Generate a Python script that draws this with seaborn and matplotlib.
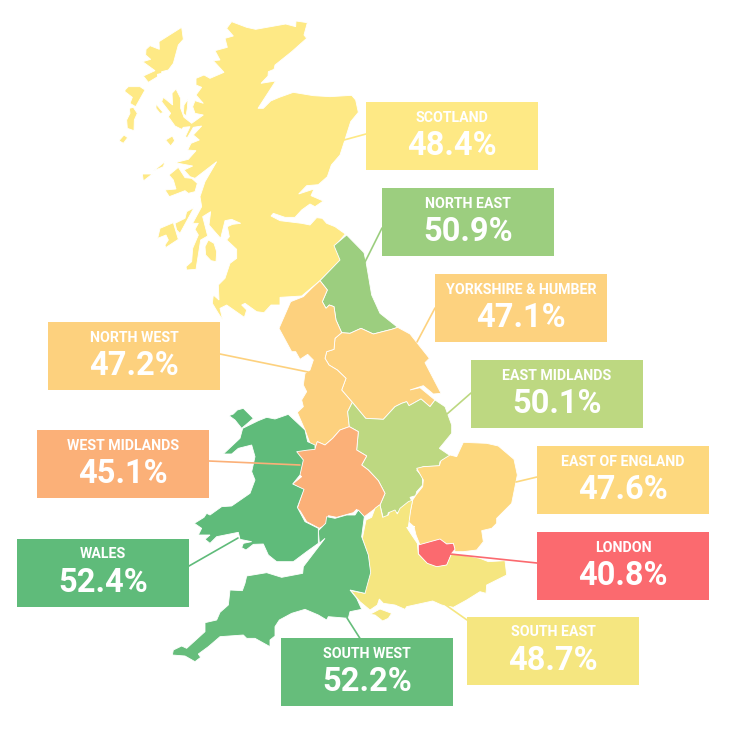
import matplotlib
matplotlib.use('Agg')
import matplotlib.pyplot as plt
import seaborn as sns

# region results
regions = ['SCOTLAND', 'NORTH EAST', 'YORKSHIRE & HUMBER', 'NORTH WEST', 'EAST MIDLANDS',
           'WEST MIDLANDS', 'EAST OF ENGLAND', 'LONDON', 'SOUTH EAST', 'SOUTH WEST', 'WALES']
values = [48.4, 50.9, 47.1, 47.2, 50.1, 45.1, 47.6, 40.8, 48.7, 52.2, 52.4]
colours = ['#FEE985', '#9CCE7F', '#FDD27F', '#FDD17E', '#BDD881',
           '#FBB078', '#FDD87E', '#FB6A6F', '#F5E680', '#66BD7B', '#5FBB7A']

# top-left corner of each label box, box size is the same for all
box_x = [366, 382, 435, 48, 471, 37, 537, 537, 467, 281, 17]
box_y = [102, 188, 274, 322, 360, 430, 446, 532, 617, 638, 539]
BOX_W, BOX_H = 172, 68

# leader lines: x0, y0, x1, y1
leaders = [(344, 140, 366, 134), (365, 262, 382, 228), (417, 342, 435, 308), (220, 354, 308, 372),
           (447, 414, 471, 393), (209, 461, 300, 465), (516, 482, 537, 477), (450, 554, 537, 563),
           (440, 601, 467, 620), (347, 618, 361, 640), (189, 566, 238, 538)]

# outlines traced at 3x from the source picture, with the corner each trace starts from
SCOT_ORIGIN = (110, 10)
scot_main = [(365,35),(410,52),(437,58),(527,42),(557,50),(558,33),(592,38),(582,75),(590,85),(545,125),(495,165),(492,178),(475,185),(474,198),(453,220),(497,213),(444,295),(460,295),(482,273),(508,262),(550,247),(610,257),(660,260),(725,256),(737,270),(745,307),(722,335),(703,395),(690,435),(664,465),(652,500),(625,524),(590,527),(566,552),(612,537),(603,557),(640,573),(615,590),(600,582),(575,600),(555,622),(525,622),(490,610),(483,618),(510,632),(575,640),(600,645),(620,623),(637,625),(650,640),(675,650),(706,672),(675,708),(691,750),(630,812),(575,858),(510,862),(510,885),(483,885),(462,908),(440,905),(405,880),(395,885),(410,900),(403,922),(350,885),(330,895),(338,930),(322,905),(307,880),(310,855),(327,870),(325,825),(345,805),(360,760),(380,745),(380,718),(350,690),(358,680),(352,650),(368,643),(392,640),(365,628),(345,632),(332,685),(297,645),(302,605),(278,620),(293,678),(272,690),(258,778),(230,780),(228,770),(245,755),(248,715),(265,675),(255,658),(265,640),(248,640),(275,590),(270,560),(285,515),(320,455),(255,505),(240,500),(222,480),(248,468),(195,458),(235,448),(258,422),(233,420),(243,400),(268,390),(250,375),(275,348),(250,352),(232,383),(226,380),(240,350),(220,352),(215,358),(195,348),(175,320),(182,310),(155,275),(160,262),(188,285),(186,250),(198,237),(212,265),(212,295),(222,322),(245,340),(280,315),(255,310),(248,290),(255,272),(280,280),(258,255),(275,232),(258,225),(258,205),(282,195),(300,205),(342,187),(310,152),(330,150),(315,122),(352,112),(345,85),(370,78),(350,55)]
scot_islands = [
    [(215,52),(220,88),(205,105),(190,160),(175,180),(155,185),(155,190),(142,193),(143,200),(115,217),(100,198),(135,182),(98,155),(122,148),(107,135),(108,118),(120,107),(148,118),(147,95)],
    [(45,240),(55,230),(90,230),(105,240),(77,290),(60,280),(67,262),(45,245)],
    [(58,295),(70,292),(82,310),(73,330),(72,362),(52,355),(50,330),(60,310)],
    [(27,392),(42,375),(53,383),(40,400)],
    [(167,390),(187,378),(194,392),(182,408)],
    [(130,483),(165,455),(160,470)],
    [(97,492),(127,492),(100,513)],
    [(177,495),(205,472),(225,503),(245,505),(262,520),(255,545),(235,550),(225,542),(178,560),(165,540),(198,537),(190,510)],
    [(143,685),(150,655),(190,638),(205,688),(167,713),(165,705),(175,690),(168,675)],
    [(195,640),(225,625),(230,605),(252,593),(210,670),(200,660)],
    [(295,690),(312,700),(320,725),(318,755),(303,752),(287,735),(285,710)],
    [(220,310),(222,285),(234,268),(232,295),(228,318)],
    [(138,282),(160,308),(150,310),(138,295)],
]

MID_ORIGIN = (260, 230)
north_east = [(260,15),(312,68),(318,95),(335,195),(360,250),(413,292),(395,298),(340,312),(303,295),(270,310),(245,308),(228,270),(222,230),(208,225),(198,235),(187,215),(202,180),(180,152),(240,90),(222,47)]
north_west = [(180,152),(202,180),(187,215),(198,235),(208,225),(222,230),(228,270),(245,308),(225,325),(222,358),(200,365),(195,385),(207,405),(232,420),(258,445),(245,480),(277,517),(263,545),(268,590),(240,600),(218,625),(195,645),(172,635),(165,655),(150,640),(135,600),(112,547),(130,530),(125,510),(140,485),(130,465),(135,430),(150,420),(160,390),(143,373),(120,388),(107,365),(95,365),(57,295),(92,215),(130,200),(155,175)]
yorkshire = [(413,292),(450,312),(508,385),(495,398),(543,490),(520,492),(490,467),(450,480),(480,473),(525,510),(510,530),(483,507),(447,527),(440,515),(425,520),(405,530),(370,568),(317,565),(277,517),(245,480),(258,445),(232,420),(207,405),(195,385),(200,365),(222,358),(225,325),(245,308),(270,310),(303,295),(340,312),(395,298)]
east_midlands = [(277,517),(317,565),(370,568),(405,530),(425,520),(440,515),(447,527),(483,507),(510,530),(525,510),(555,530),(575,585),(575,610),(538,655),(572,678),(540,695),(538,708),(490,710),(470,720),(487,740),(488,765),(470,785),(467,797),(450,802),(455,812),(415,848),(385,848),(382,860),(370,865),(360,825),(375,790),(355,752),(325,720),(305,705),(320,678),(290,660),(295,605),(268,590),(263,545)]
west_midlands = [(268,590),(295,605),(290,660),(320,678),(305,705),(325,720),(355,752),(375,790),(360,825),(313,860),(290,838),(280,848),(230,862),(205,857),(205,880),(178,895),(140,875),(120,842),(112,835),(130,780),(98,762),(125,740),(108,725),(125,705),(107,665),(120,650),(152,645),(165,655),(172,635),(195,645),(218,625),(240,600)]

WEST_ORIGIN = (160, 400)
wales = [(385,43),(435,90),(443,125),(465,135),(465,148),(445,150),(410,155),(430,180),(420,225),(398,252),(432,268),(412,322),(435,365),(475,385),(475,430),(440,455),(400,485),(350,485),(325,465),(310,432),(280,433),(258,450),(245,443),(250,430),(275,425),(240,418),(235,397),(170,410),(150,430),(135,418),(150,405),(115,405),(125,385),(103,370),(132,352),(140,340),(150,345),(185,320),(215,318),(270,280),(285,240),(275,215),(285,170),(275,135),(235,145),(215,162),(190,162),(240,115),(248,85),(295,62),(320,52),(345,57)]
anglesey = [(207,47),(220,42),(232,30),(250,25),(280,55),(245,85),(225,60)]
south_west = [(475,392),(478,430),(495,415),(430,500),(428,520),(365,532),(320,518),(260,528),(255,550),(247,572),(210,570),(205,615),(180,637),(170,660),(135,668),(135,695),(80,745),(65,738),(40,750),(37,765),(75,768),(105,785),(122,772),(115,762),(145,740),(180,710),(250,705),(260,715),(285,715),(330,740),(330,720),(345,708),(345,680),(358,660),(395,640),(435,628),(475,645),(500,660),(505,650),(565,655),(570,635),(605,628),(590,595),(570,570),(615,580),(632,518),(625,465),(605,410),(613,350),(595,330),(585,345),(560,345),(525,355),(500,350),(497,370)]

EAST_ORIGIN = (340, 430)
south_east = [(120,225),(128,262),(145,255),(148,247),(165,240),(172,252),(180,235),(205,215),(218,210),(212,240),(208,270),(205,290),(225,290),(200,292),(215,315),(232,340),(235,372),(262,400),(290,410),(320,405),(335,370),(395,380),(420,385),(445,395),(495,392),(500,435),(440,465),(438,490),(420,485),(380,510),(340,532),(305,525),(278,513),(200,530),(195,538),(165,525),(130,520),(118,507),(112,525),(90,540),(60,515),(32,482),(75,490),(70,435),(90,420),(85,380),(67,325),(78,270),(95,262),(105,235),(118,225)]
wight = [(90,553),(120,537),(155,550),(145,565),(128,573),(105,555)]
east_england = [(370,37),(440,40),(475,48),(522,88),(532,135),(515,220),(470,265),(470,280),(455,295),(425,302),(430,335),(410,360),(370,365),(345,365),(340,340),(320,342),(300,328),(240,345),(228,315),(222,290),(205,275),(212,240),(218,210),(228,195),(248,170),(250,150),(230,115),(250,110),(298,107),(303,92),(330,75),(350,80)]
london = [(235,345),(300,327),(320,342),(340,340),(345,358),(335,370),(322,405),(290,412),(262,402),(235,372)]

shapes = {
    'SCOTLAND': [(SCOT_ORIGIN, s) for s in [scot_main] + scot_islands],
    'NORTH EAST': [(MID_ORIGIN, north_east)],
    'YORKSHIRE & HUMBER': [(MID_ORIGIN, yorkshire)],
    'NORTH WEST': [(MID_ORIGIN, north_west)],
    'EAST MIDLANDS': [(MID_ORIGIN, east_midlands)],
    'WEST MIDLANDS': [(MID_ORIGIN, west_midlands)],
    'EAST OF ENGLAND': [(EAST_ORIGIN, east_england)],
    'LONDON': [(EAST_ORIGIN, london)],
    'SOUTH EAST': [(EAST_ORIGIN, south_east), (EAST_ORIGIN, wight)],
    'SOUTH WEST': [(WEST_ORIGIN, south_west)],
    'WALES': [(WEST_ORIGIN, wales), (WEST_ORIGIN, anglesey)],
}

sns.set_theme(style='white')
plt.rcParams['font.family'] = ['Roboto', 'DejaVu Sans']
palette = dict(zip(regions, sns.color_palette(colours)))

fig = plt.figure(figsize=(7.3, 7.3), dpi=100)
ax = fig.add_axes([0, 0, 1, 1])

# map
for name in regions:
    for (ox, oy), outline in shapes[name]:
        xs = [ox + p[0] / 3 for p in outline]
        ys = [oy + p[1] / 3 for p in outline]
        ax.fill(xs, ys, facecolor=palette[name], edgecolor='white', linewidth=0.6, zorder=2)

# leader lines, same order as regions
for name, (x0, y0, x1, y1) in zip(regions, leaders):
    sns.lineplot(x=[x0, x1], y=[y0, y1], color=palette[name], linewidth=1.2, ax=ax, zorder=3)

# label boxes
for i, name in enumerate(regions):
    bx, by = box_x[i], box_y[i]
    ax.add_patch(plt.Rectangle((bx, by), BOX_W, BOX_H, facecolor=palette[name], edgecolor='none', zorder=4))
    ax.text(bx + BOX_W / 2, by + 15.5, name, color='white', fontsize=10.2, fontweight='bold',
            ha='center', va='center', zorder=5)
    ax.text(bx + BOX_W / 2, by + 44, f'{values[i]:.1f}%', color='white', fontsize=23.5, fontweight='bold',
            ha='center', va='center', zorder=5)

ax.set_xlim(0, 730)
ax.set_ylim(730, 0)
ax.axis('off')

fig.savefig('out.png', dpi=100, facecolor='white')
